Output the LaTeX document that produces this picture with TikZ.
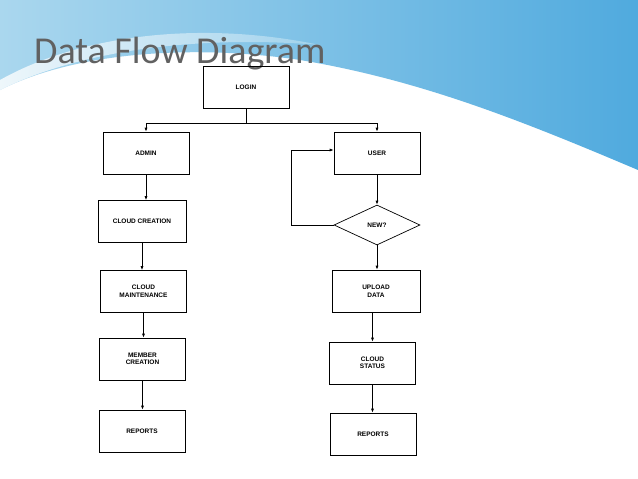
\documentclass[tikz,border=0pt]{standalone}
\usepackage{fontspec}
\setmainfont{Liberation Sans}
\newfontfamily\titlefont{Carlito}
\usetikzlibrary{shapes.geometric,arrows.meta}
\definecolor{bA}{RGB}{170,215,238}
\definecolor{bB}{RGB}{80,170,222}
\begin{document}
\begin{tikzpicture}[x=1pt,y=-1pt,
  box/.style={draw,line width=0.7pt,minimum width=86pt,minimum height=42pt,font=\fontsize{6.5}{7.5}\selectfont\bfseries,align=center,inner sep=1pt},
  dia/.style={draw,diamond,aspect=2.15,line width=0.7pt,minimum width=86pt,minimum height=40pt,inner sep=0pt,font=\fontsize{6.5}{7.5}\selectfont\bfseries},
  arr/.style={-{Latex[length=4pt,width=3pt]},line width=0.7pt},
  ln/.style={line width=0.7pt}]
\useasboundingbox (0,0) rectangle (638,479);
\fill[white] (0,0) rectangle (638,479);
\shade[left color=bA, right color=bB]
  (0,0) -- (638,0) -- (638,170) .. controls (520,120) and (420,80) .. (300,60)
  .. controls (200,45) and (80,50) .. (0,90) -- cycle;
\shade[left color=white, right color=bA, opacity=0.8]
  (0,80) .. controls (80,35) and (200,20) .. (320,45)
  .. controls (200,35) and (80,50) .. (0,90) -- cycle;
\fill[white] (190,60) rectangle (300,110);
\fill[white] (300,70) .. controls (420,95) and (540,130) .. (638,175) -- (638,200) .. controls (540,150) and (420,110) .. (300,90) -- cycle;
\node[anchor=base west,font=\titlefont\fontsize{38}{40}\selectfont,text=black!62,inner sep=0pt] (title) at (34,63) {Data Flow Diagram};

\node[box] (login) at (246,87) {LOGIN};
\node[box] (admin) at (146,153) {ADMIN};
\node[box] (user) at (377,153) {USER};
\node[dia] (new) at (377,225) {NEW?};
\node[box,minimum width=88pt] (cc) at (142,221.5) {CLOUD CREATION};
\node[box] (cm) at (143.5,291.5) {CLOUD\\MAINTENANCE};
\node[box] (mc) at (142.5,359) {MEMBER\\CREATION};
\node[box] (rl) at (142,431) {REPORTS};
\node[box,minimum width=88pt] (ud) at (376,291) {UPLOAD\\DATA};
\node[box] (cs) at (372.5,363) {CLOUD\\STATUS};
\node[box] (rr) at (373,434) {REPORTS};

\coordinate (j) at (246,123);
\draw[ln] (login.south) -- (j);
\draw[arr] (j) -| (admin.north);
\draw[arr] (j) -| (user.north);
\draw[arr] (admin.south) -- (admin.south |- cc.north);
\draw[arr] (cc.south) -- (cm.north -| cc.south);
\draw[arr] (cm.south) -- (mc.north -| cm.south);
\draw[arr] (mc.south) -- (rl.north -| mc.south);
\draw[arr] (user.south) -- (new.north);
\draw[arr] (new.west) -- (291,225) -- (291,150) -- (user.west |- 0,150);
\draw[arr] (new.south) -- (ud.north -| new.south);
\draw[arr] (ud.south -| cs.north) -- (cs.north);
\draw[arr] (cs.south) -- (rr.north -| cs.south);
\end{tikzpicture}
\end{document}
